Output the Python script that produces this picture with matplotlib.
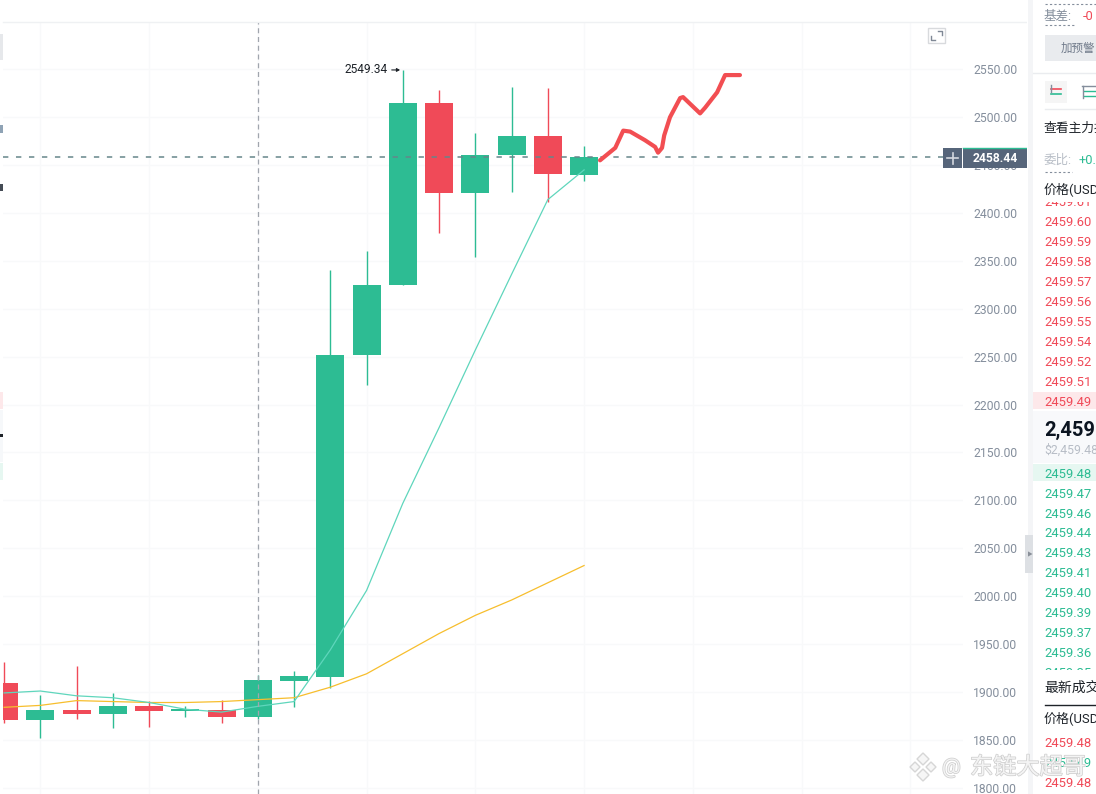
import matplotlib
matplotlib.use('Agg')
import numpy as np
import matplotlib.pyplot as plt
from matplotlib.patches import Rectangle, RegularPolygon
import matplotlib.patheffects as pe

plt.rcParams['font.family'] = ['Roboto', 'Noto Sans CJK SC', 'DejaVu Sans']

W, H = 1096, 794
GREEN = '#2DBC93'
RED = '#F04A58'
GRAY = '#848E9C'
DARK = '#1E2329'

# candles
opens = [1909, 1871, 1881, 1877, 1885, 1880, 1881, 1874, 1911, 1916, 2252, 2325, 2515, 2421, 2461, 2480, 2440]
highs = [1931, 1897, 1927, 1899, 1891, 1885, 1892, 1918, 1922, 2341, 2360, 2549.34, 2528, 2484, 2532, 2531, 2470]
lows = [1868, 1852, 1872, 1862, 1863, 1874, 1868, 1872, 1884, 1904, 2220, 2325, 2379, 2354, 2422, 2412, 2433]
closes = [1871, 1881, 1877, 1885, 1880, 1882, 1874, 1912, 1917, 2252, 2325, 2515, 2421, 2461, 2480, 2441, 2458]
ma_fast = [1899, 1901, 1896, 1894, 1889, 1882, 1879, 1885, 1890, 1944, 2006, 2097, 2176, 2257, 2336, 2414, 2445]
ma_slow = [1884, 1886, 1891, 1890, 1889, 1889, 1890, 1892, 1894, 1905, 1919, 1940, 1961, 1980, 1996, 2014, 2032]

# hand drawn red stroke: candle position / price
sketch_x = [16.44, 16.86, 17.08, 17.27, 17.68, 17.96, 18.04, 18.15, 18.21, 18.37, 18.65, 18.73,
            19.2, 19.34, 19.67, 19.89, 20.3]
sketch_y = [2455, 2468, 2486, 2485, 2476, 2469, 2463, 2468, 2481, 2500, 2520, 2521,
            2504, 2510, 2526, 2544, 2544]

price_ticks = [1800, 1850, 1900, 1950, 2000, 2050, 2100, 2150, 2200, 2250, 2300, 2350, 2400, 2450, 2500, 2550]
grid_positions = [1, 4, 7, 10, 13, 16, 19, 22, 25]
last_price = 2458.44
high_label = 2549.34
crosshair_pos = 7

# order book
asks = ['2459.61', '2459.60', '2459.59', '2459.58', '2459.57', '2459.56', '2459.55',
        '2459.54', '2459.52', '2459.51', '2459.49']
bids = ['2459.48', '2459.47', '2459.46', '2459.44', '2459.43', '2459.41', '2459.40',
        '2459.39', '2459.37', '2459.36', '2459.35']
trades = ['2459.48', '2459.49', '2459.48']
trade_colors = [RED, GREEN, RED]

fig = plt.figure(figsize=(W / 100, H / 100), dpi=100)
ax = fig.add_axes([3 / W, 0, 960 / W, 772 / H])
ax.set_xlim(-0.03, 26.453)
ax.set_ylim(1793.5, 2599.4)

for s in ax.spines.values():
    s.set_visible(False)
ax.yaxis.tick_right()
ax.set_yticks(price_ticks)
ax.set_yticklabels(['%.2f' % p for p in price_ticks], color=GRAY, fontsize=8.7)
ax.tick_params(axis='y', length=0, pad=7.5)
ax.set_xticks(grid_positions)
ax.tick_params(axis='x', length=0, labelbottom=False)
ax.grid(True, color='#F8F9FA', lw=1)
ax.set_axisbelow(True)

x = np.arange(len(opens))
colors = [GREEN if c >= o else RED for o, c in zip(opens, closes)]
ax.vlines(x, lows, highs, color=colors, lw=1, zorder=2)
ax.bar(x, np.array(closes) - np.array(opens), bottom=opens, width=0.775, color=colors, lw=0, zorder=3)
ax.plot(x, ma_slow, color='#F7BE2D', lw=0.9, zorder=4)
ax.plot(x, ma_fast, color='#5FD6BC', lw=0.9, zorder=4)
ax.plot(sketch_x, sketch_y, color='#F24E52', lw=3, zorder=6, solid_capstyle='round', solid_joinstyle='round')

ax.axvline(crosshair_pos, color='#A0A5AD', lw=0.9, ls=(0, (4, 3)), zorder=5)
ax.axhline(last_price, color='#66868A', lw=1.1, ls=(0, (3.5, 5)), zorder=5)
ax.annotate('%.2f' % high_label, xy=(11, high_label), xytext=(-10.8, 0), textcoords='offset points',
            ha='right', va='center', fontsize=8.6, color=DARK)
ax.annotate('', xy=(11, high_label), xycoords='data', xytext=(-8, 0), textcoords='offset points',
            arrowprops=dict(arrowstyle='-|>,head_length=0.18,head_width=0.1', color=DARK, lw=0.8,
                            shrinkA=0, shrinkB=2))

# page chrome on top, in pixels
ui = fig.add_axes([0, 0, 1, 1], facecolor='none')
ui.set_xlim(0, W)
ui.set_ylim(H, 0)
ui.axis('off')


def box(x0, y0, w, h, color, z=1, **kw):
    ui.add_patch(Rectangle((x0, y0), w, h, fc=color, ec='none', zorder=z, **kw))


def label(x0, y0, s, color=DARK, size=8.7, **kw):
    return ui.text(x0 - 1, y0 + 1.5, s, color=color, fontsize=size, va='center', **kw)


ui.plot([3, 1027], [22, 22], color='#EFF1F3', lw=1, zorder=1)

# last price tag
box(943, 148, 19, 20, '#56657A', z=7)
box(963, 148, 64, 20, '#56657A', z=7)
ui.plot([963, 1027], [147.5, 147.5], color=GREEN, lw=1, zorder=8)
ui.plot([947, 958], [158, 158], color='#D5D9DF', lw=1.2, zorder=8)
ui.plot([952.5, 952.5], [152.5, 163.5], color='#D5D9DF', lw=1.2, zorder=8)
ui.text(995, 158, '%.2f' % last_price, color='white', fontsize=8.7, ha='center', va='center',
        weight='bold', zorder=8)

# expand icon
ui.add_patch(Rectangle((928, 28), 17, 15, fc='white', ec='#D8DADD', lw=1, zorder=7))
ui.plot([938, 942, 942], [31, 31, 35], color='#7F8895', lw=1, zorder=8)
ui.plot([931, 931, 935], [36, 40, 40], color='#7F8895', lw=1, zorder=8)

# left edge fragments
box(0, 34, 3, 26, '#E6E8EB', z=7)
box(0, 392, 3, 17, '#FDE8EA', z=7)
box(0, 410, 3, 52, '#F6F8FA', z=7)
box(0, 463, 3, 17, '#E6F7F1', z=7)
box(0, 434, 3, 3, '#1E2329', z=8)
box(0, 125, 3, 8, '#8FA3B5', z=8)
box(0, 184, 3, 7, '#444B55', z=8)

# right panel
box(1027, 0, 69, H, 'white', z=9)
box(1028, 0, 5, H, '#F4F5F7', z=10)
box(1025, 535, 8, 38, '#DDE0E4', z=11)
ui.add_patch(RegularPolygon((1029.5, 554), 3, radius=3, orientation=-np.pi / 2, fc='#8A9099', ec='none', zorder=12))

label(1045, 15, '基差:', color=GRAY, size=9, zorder=12)
label(1084, 15, '-0', color=RED, size=9.3, zorder=12)
ui.plot([1045, 1074], [25, 25], color=GRAY, lw=0.8, ls=(0, (2, 2)), zorder=12)
ui.plot([1045, 1096], [4, 4], color=GRAY, lw=0.8, ls=(0, (2, 2)), zorder=12)
box(1045, 35, 52, 26, '#E9EBEE', z=11)
label(1062, 47, '加预警', color='#707A8A', size=8.3, zorder=12)
ui.plot([1033, 1096], [73, 73], color='#EAECEF', lw=1, zorder=12)
box(1045, 81, 22, 22, '#F5F5F5', z=11)
ui.plot([1051, 1061], [89, 89], color=RED, lw=1.2, zorder=12)
ui.plot([1051, 1061], [94, 94], color=GREEN, lw=1.2, zorder=12)
ui.plot([1051, 1051], [85, 92], color=GRAY, lw=1, zorder=12)
ui.plot([1082, 1096], [86, 86], color=GRAY, lw=1, zorder=12)
ui.plot([1084, 1096], [91, 91], color=GREEN, lw=1, zorder=12)
ui.plot([1084, 1096], [96, 96], color=GREEN, lw=1, zorder=12)
ui.plot([1083, 1083], [86, 98], color=GRAY, lw=1, zorder=12)
ui.plot([1045, 1096], [109, 109], color='#EAECEF', lw=1, zorder=12)
label(1045, 127, '查看主力持', color=DARK, size=9.2, zorder=12)
label(1045, 159, '委比:', color='#B7BDC6', size=9, zorder=12)
label(1080, 159, '+0.', color=GREEN, size=9.2, zorder=12)
ui.plot([1045, 1072], [172, 172], color=GRAY, lw=0.8, ls=(0, (2, 2)), zorder=12)
label(1045, 189, '价格(USD', color=DARK, size=9.4, zorder=12)

clip_top = Rectangle((1033, 202), 63, 600, transform=ui.transData)
for i, p in enumerate(asks):
    t = label(1045, 201 + 20 * i, p, color=RED, size=9.4, zorder=13)
    t.set_clip_on(True)
    t.set_clip_path(clip_top)
box(1033, 392, 63, 17, '#FDE8EA', z=11)

label(1045, 429, '2,459', color='#0B1420', size=14.5, weight='bold', zorder=13)
label(1045, 449, '$2,459.48', color='#B7BDC6', size=8.8, zorder=13)
box(1033, 464, 63, 17, '#E6F7F1', z=11)
box(1033, 411, 63, 52, '#F8F9FB', z=10.5)

clip_bid = Rectangle((1033, 440), 63, 230, transform=ui.transData)
for i, p in enumerate(bids):
    t = label(1045, 473 + 20 * i - (1 if i > 2 else 0), p, color=GREEN, size=9.4, zorder=13)
    t.set_clip_on(True)
    t.set_clip_path(clip_bid)

label(1045, 686, '最新成交', color=DARK, size=10, zorder=13)
ui.plot([1045, 1096], [705, 705], color='#1E2329', lw=1, zorder=13)
label(1045, 718, '价格(USD', color=DARK, size=9.4, zorder=13)
for i, p in enumerate(trades):
    label(1045, 742 + 20 * i, p, color=trade_colors[i], size=9.4, zorder=13)

# watermark
halo = [pe.withStroke(linewidth=1.1, foreground='#CFCFCF')]
label(943, 766, '@', color='#F4F4F4', size=15, zorder=15, path_effects=halo)
label(971, 766, '东链大超哥', color='#F4F4F4', size=16.7, zorder=15, path_effects=halo)
for dx, dy, r in [(0, -8, 6), (-8, 0, 5), (8, 0, 5), (0, 8, 6)]:
    ui.add_patch(RegularPolygon((923 + dx, 767 + dy), 4, radius=r, fc='#F6F6F6', ec='#D6D6D6', lw=1, zorder=15))

fig.savefig('out.png', dpi=100, facecolor='white')
